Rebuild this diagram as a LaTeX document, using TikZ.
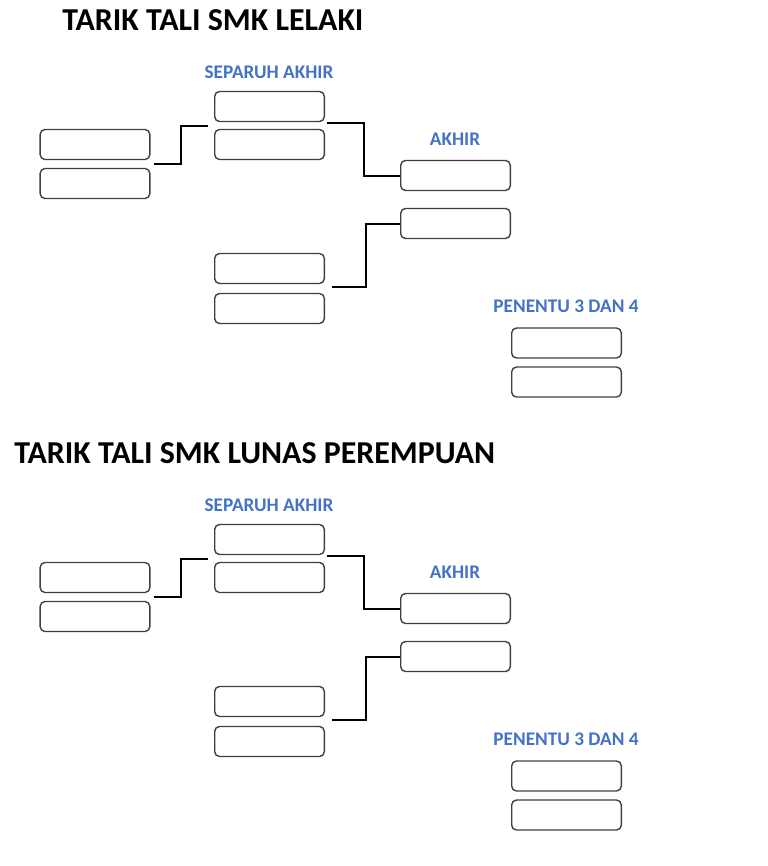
\documentclass[tikz,border=0pt]{standalone}
\usepackage{fontspec}
\setmainfont{Carlito}
\usetikzlibrary{calc}
\definecolor{headblue}{HTML}{4472C4}
\definecolor{boxgray}{HTML}{404040}

\tikzset{
	slot/.style={draw=boxgray,line width=0.35mm,rounded corners=1.2mm,minimum width=27.4mm,minimum height=7.5mm,inner sep=0pt},
	round/.style={font=\fontsize{13.7}{16}\selectfont\bfseries,text=headblue,inner sep=0pt},
	link/.style={black,line width=0.5mm},
	title/.style={font=\fontsize{22.7}{27}\selectfont\bfseries,anchor=west,inner sep=0pt}
}
\tikzset{
	bracket/.pic={
        code={
\node[round] (sflabel) at (269,72) {SEPARUH AKHIR};
\node[round] (flabel) at (455,139) {AKHIR};
\node[round] (plabel) at (566,306) {PENENTU 3 DAN 4};
\node[slot] (l1) at (95,144.5) {};
\node[slot] (l2) at (95,183.5) {};
\node[slot] (s1) at (269.5,106.5) {};
\node[slot] (s2) at (269.5,144.5) {};
\node[slot] (s3) at (269.5,268.5) {};
\node[slot] (s4) at (269.5,308.5) {};
\node[slot] (f1) at (455.5,175.5) {};
\node[slot] (f2) at (455.5,223.5) {};
\node[slot] (p1) at (566.5,343) {};
\node[slot] (p2) at (566.5,382) {};
\coordinate (a1) at ($(l1.south east)!.5!(l2.north east)+(3,0)$);
\coordinate (b1) at ($(s1.south west)!.5!(s2.north west)+(-6,0)$);
\coordinate (a2) at ($(s1.south east)!.5!(s2.north east)+(2,-3)$);
\coordinate (a3) at ($(s3.south east)!.5!(s4.north east)+(7,-2)$);
\draw[link] (a1) -| ($(a1)!.5!(b1)$) |- (b1);
\draw[link] (a2) -| ($(a2)!.5!(f1.west)$) |- (f1.west);
\draw[link] (f2.west) -| ($(f2.west)!.5!(a3)$) |- (a3);
							}
	}
}

\begin{document}
\begin{tikzpicture}[x=0.25mm,y=-0.25mm]
\useasboundingbox (0,0) rectangle (768,866);
%Lelaki
\node[title] (t1) at (62,20) {TARIK TALI SMK LELAKI};
\path (0,0) pic (lel-) {bracket};
%Perempuan
\node[title] (t2) at (14,453) {TARIK TALI SMK LUNAS PEREMPUAN};
\path (0,433) pic (pem-) {bracket};
\end{tikzpicture}
\end{document}
